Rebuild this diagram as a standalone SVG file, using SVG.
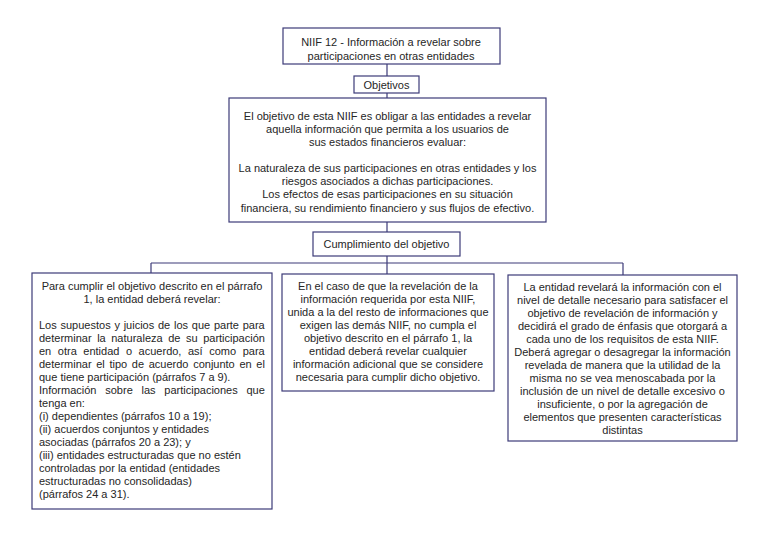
<svg xmlns="http://www.w3.org/2000/svg" width="768" height="538" viewBox="0 0 768 538">
<style>
.box{fill:#fff;stroke:#3d3b78;stroke-width:1.2}
.t{font-family:"Liberation Sans",Arial,sans-serif;font-size:11px;fill:#262626}
.c{text-anchor:middle}
.conn{stroke:#3d3b78;stroke-width:1.2;fill:none}
</style>
<rect width="768" height="538" fill="#fff"/>
<g id="connectors">
<path class="conn" d="M387 64V76M387 93V98M387 222V232M387 256V274M151 263H623M151 263V273M623 263V275"/>
</g>
<g id="title">
<rect class="box" x="283" y="28" width="217" height="36"/>
<text class="t c" x="391" y="46">NIIF 12 - Información a revelar sobre</text>
<text class="t c" x="391" y="60">participaciones en otras entidades</text>
</g>
<g id="objetivos">
<rect class="box" x="354" y="76" width="65" height="17"/>
<text class="t c" x="386.5" y="89">Objetivos</text>
</g>
<g id="objetivo-texto">
<rect class="box" x="229" y="98" width="317" height="124"/>
<text class="t c" x="387.5" y="120">El objetivo de esta NIIF es obligar a las entidades a revelar</text>
<text class="t c" x="387.5" y="133">aquella información que permita a los usuarios de</text>
<text class="t c" x="387.5" y="146">sus estados financieros evaluar:</text>
<text class="t c" x="387.5" y="172">La naturaleza de sus participaciones en otras entidades y los</text>
<text class="t c" x="387.5" y="185">riesgos asociados a dichas participaciones.</text>
<text class="t c" x="387.5" y="198">Los efectos de esas participaciones en su situación</text>
<text class="t c" x="387.5" y="212">financiera, su rendimiento financiero y sus flujos de efectivo.</text>
</g>
<g id="cumplimiento">
<rect class="box" x="313" y="232" width="147" height="24"/>
<text class="t c" x="386.5" y="248">Cumplimiento del objetivo</text>
</g>
<g id="izquierda">
<rect class="box" x="32" y="273" width="240" height="236"/>
<text class="t c" x="152" y="290">Para cumplir el objetivo descrito en el párrafo</text>
<text class="t c" x="152" y="303">1, la entidad deberá revelar:</text>
<text class="t" x="39" y="329" word-spacing="0.7">Los supuestos y juicios de los que parte para</text>
<text class="t" x="39" y="342" word-spacing="2.5">determinar la naturaleza de su participación</text>
<text class="t" x="39" y="355" word-spacing="3.5">en otra entidad o acuerdo, así como para</text>
<text class="t" x="39" y="368" word-spacing="1.6">determinar el tipo de acuerdo conjunto en el</text>
<text class="t" x="39" y="381">que tiene participación (párrafos 7 a 9).</text>
<text class="t" x="39" y="394" word-spacing="5.7">Información sobre las participaciones que</text>
<text class="t" x="39" y="407">tenga en:</text>
<text class="t" x="39" y="420">(i) dependientes (párrafos 10 a 19);</text>
<text class="t" x="39" y="433">(ii) acuerdos conjuntos y entidades</text>
<text class="t" x="39" y="446">asociadas (párrafos 20 a 23); y</text>
<text class="t" x="39" y="459">(iii) entidades estructuradas que no estén</text>
<text class="t" x="39" y="472">controladas por la entidad (entidades</text>
<text class="t" x="39" y="485">estructuradas no consolidadas)</text>
<text class="t" x="39" y="498">(párrafos 24 a 31).</text>
</g>
<g id="centro">
<rect class="box" x="282" y="274" width="212" height="117"/>
<text class="t c" x="388" y="290">En el caso de que la revelación de la</text>
<text class="t c" x="388" y="303">información requerida por esta NIIF,</text>
<text class="t c" x="388" y="316">unida a la del resto de informaciones que</text>
<text class="t c" x="388" y="329">exigen las demás NIIF, no cumpla el</text>
<text class="t c" x="388" y="342">objetivo descrito en el párrafo 1, la</text>
<text class="t c" x="388" y="355">entidad deberá revelar cualquier</text>
<text class="t c" x="388" y="368">información adicional que se considere</text>
<text class="t c" x="388" y="381">necesaria para cumplir dicho objetivo.</text>
</g>
<g id="derecha">
<rect class="box" x="508" y="275" width="229" height="166"/>
<text class="t c" x="622.5" y="291">La entidad revelará la información con el</text>
<text class="t c" x="622.5" y="304">nivel de detalle necesario para satisfacer el</text>
<text class="t c" x="622.5" y="317">objetivo de revelación de información y</text>
<text class="t c" x="622.5" y="330">decidirá el grado de énfasis que otorgará a</text>
<text class="t c" x="622.5" y="343">cada uno de los requisitos de esta NIIF.</text>
<text class="t c" x="622.5" y="356">Deberá agregar o desagregar la información</text>
<text class="t c" x="622.5" y="369">revelada de manera que la utilidad de la</text>
<text class="t c" x="622.5" y="382">misma no se vea menoscabada por la</text>
<text class="t c" x="622.5" y="395">inclusión de un nivel de detalle excesivo o</text>
<text class="t c" x="622.5" y="408">insuficiente, o por la agregación de</text>
<text class="t c" x="622.5" y="421">elementos que presenten características</text>
<text class="t c" x="622.5" y="434">distintas</text>
</g>
</svg>
